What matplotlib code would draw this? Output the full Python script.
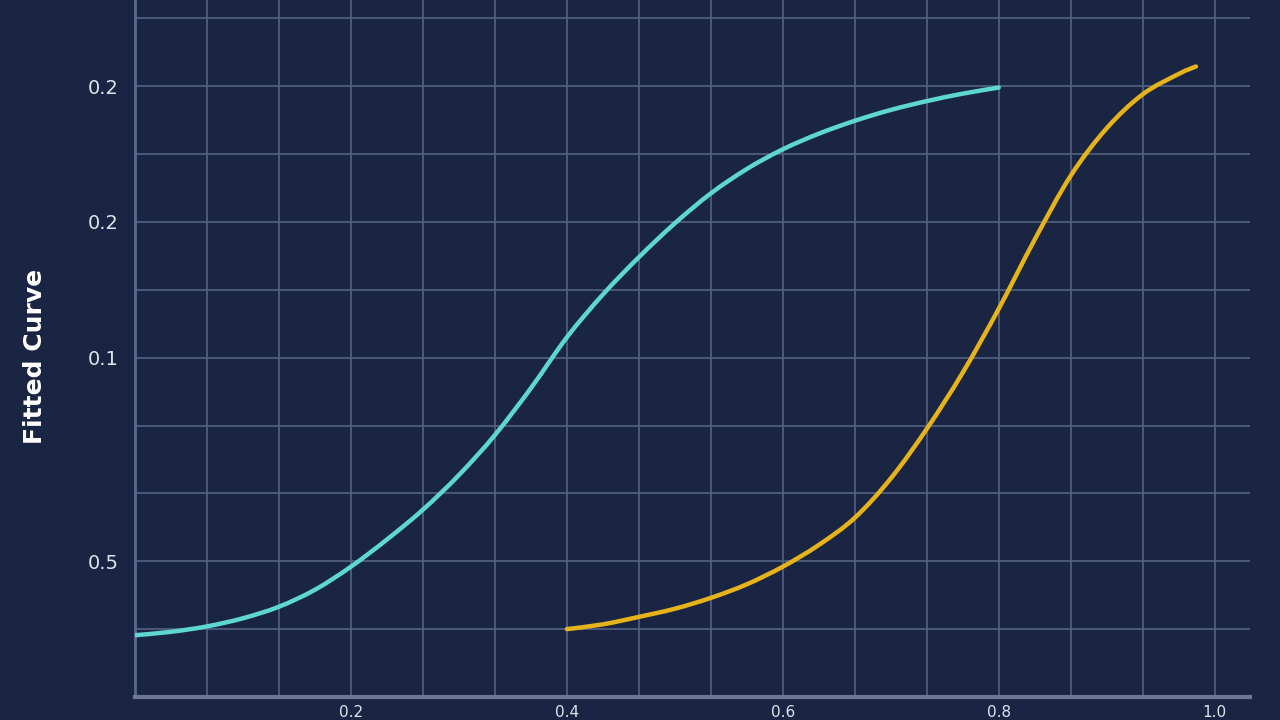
import numpy as np
import matplotlib.pyplot as plt
from matplotlib.path import Path
from matplotlib.patches import PathPatch

# cyan curve (x in grid units, y in grid units)
cyan_x = [0, 0.5, 1, 1.5, 2, 2.5, 3, 3.5, 4, 4.5, 5, 5.5, 6, 6.5, 7, 7.5, 8,
          8.5, 9, 9.5, 10, 10.5, 11, 11.5, 12]
cyan_y = [0.91, 0.96, 1.04, 1.16, 1.33, 1.58, 1.92, 2.32, 2.76, 3.27, 3.86,
          4.55, 5.30, 5.93, 6.48, 6.98, 7.42, 7.78, 8.07, 8.30, 8.49, 8.65,
          8.78, 8.89, 8.98]

# yellow curve
gold_x = [6, 6.5, 7, 7.5, 8, 8.5, 9, 9.5, 10, 10.5, 11, 11.5, 12, 12.5, 13,
          13.5, 14, 14.5, 14.74]
gold_y = [1.00, 1.07, 1.18, 1.30, 1.46, 1.66, 1.92, 2.24, 2.64, 3.22, 3.95,
          4.78, 5.72, 6.74, 7.68, 8.38, 8.88, 9.18, 9.29]

xtick_pos = [3, 6, 9, 12, 15]
xtick_labels = ['0.2', '0.4', '0.6', '0.8', '1.0']
ytick_pos = [2, 5, 7, 9]
ytick_labels = ['0.5', '0.1', '0.2', '0.2']

bg = '#192543'
grid_col = '#506080'
text_col = '#dfe3ec'


def smooth_path(xs, ys):
    # Catmull-Rom through the read points, drawn as cubic Bezier segments
    p = np.column_stack([xs, ys]).astype(float)
    verts = [p[0]]
    codes = [Path.MOVETO]
    for i in range(len(p) - 1):
        p0 = p[i - 1] if i > 0 else p[i]
        p3 = p[i + 2] if i + 2 < len(p) else p[i + 1]
        c1 = p[i] + (p[i + 1] - p0) / 6
        c2 = p[i + 1] - (p3 - p[i]) / 6
        verts += [c1, c2, p[i + 1]]
        codes += [Path.CURVE4] * 3
    return Path(verts, codes)


fig = plt.figure(figsize=(12.8, 7.2), dpi=100, facecolor=bg)
ax = fig.add_axes([0.1055, 0.032, 0.871, 0.968])
ax.set_facecolor(bg)

ax.add_patch(PathPatch(smooth_path(cyan_x, cyan_y), fill=False,
                       edgecolor='#5ed6d2', lw=3.2, capstyle='round', zorder=3))
ax.add_patch(PathPatch(smooth_path(gold_x, gold_y), fill=False,
                       edgecolor='#e6b31a', lw=3.2, capstyle='round', zorder=3))

ax.set_xlim(0, 15.49)
ax.set_ylim(0, 10.27)

ax.set_xticks(np.arange(1, 16), minor=True)
ax.set_yticks(np.arange(1, 11), minor=True)
ax.set_xticks(xtick_pos, xtick_labels)
ax.set_yticks(ytick_pos, ytick_labels)
ax.grid(True, which='both', color=grid_col, lw=1.4, alpha=0.9, zorder=1)

ax.tick_params(which='both', length=0)
ax.tick_params(axis='y', colors=text_col, labelsize=14, pad=12)
ax.tick_params(axis='x', colors=text_col, labelsize=11, pad=6)

for s in ['top', 'right']:
    ax.spines[s].set_visible(False)
ax.spines['left'].set_color('#5a6a8e')
ax.spines['left'].set_linewidth(2)
ax.spines['bottom'].set_color('#6b7898')
ax.spines['bottom'].set_linewidth(3)

fig.text(0.027, 0.505, 'Fitted Curve', rotation=90, color='white',
         fontsize=18, fontweight='bold', ha='center', va='center')

fig.savefig('out.png', dpi=100, facecolor=bg)
